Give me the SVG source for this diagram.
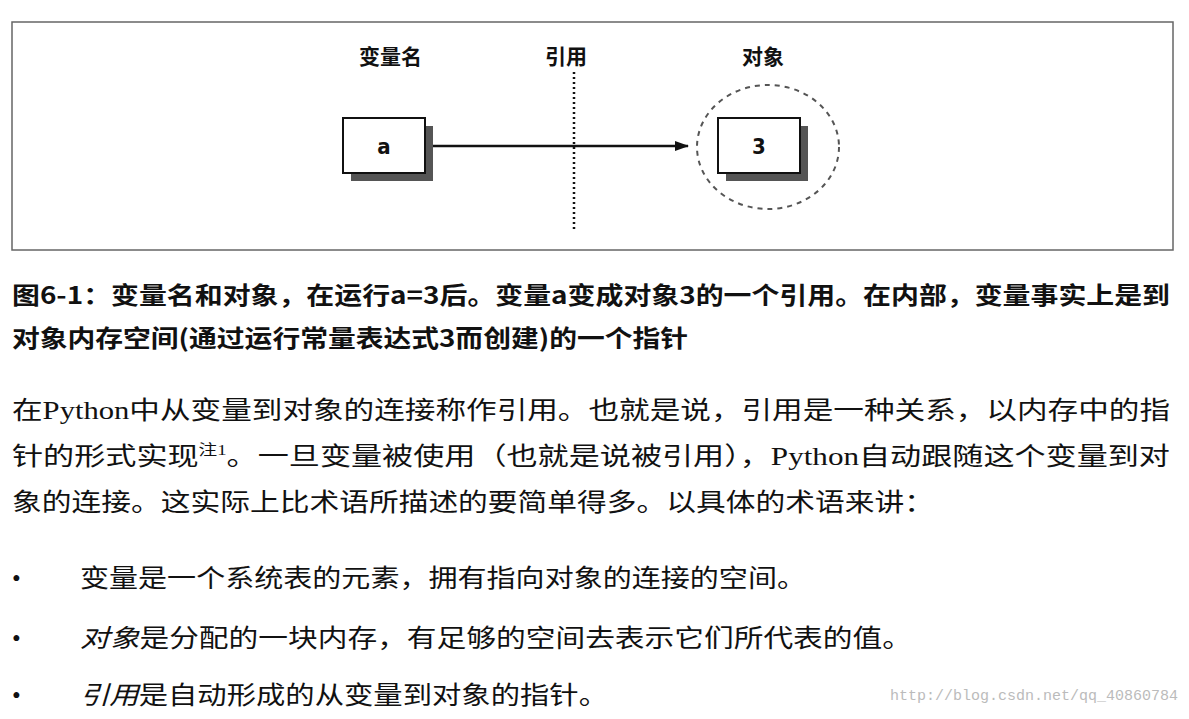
<svg xmlns="http://www.w3.org/2000/svg" width="1189" height="719" viewBox="0 0 1189 719">
<defs>
<style>
.lbl{font-family:"Noto Sans CJK SC","Noto Sans",sans-serif;font-weight:bold;font-size:21px;fill:#111}
.box{fill:#fff;stroke:#111;stroke-width:2}
.sh{fill:#555}
.in{font-family:"DejaVu Sans Condensed","Noto Sans",sans-serif;font-weight:bold;font-size:22px;fill:#111;text-anchor:middle}
.cap{font-family:"Noto Sans CJK SC","Noto Sans",sans-serif;font-weight:bold;font-size:24px;fill:#111}
.body{font-family:"Liberation Serif","Noto Sans CJK SC",serif;font-size:25px;fill:#111}
</style>
<marker id="ah" markerWidth="14" markerHeight="10" refX="13" refY="5" orient="auto" markerUnits="userSpaceOnUse"><path d="M0,0 L14,5 L0,10 Z" fill="#111"/></marker>
</defs>
<rect width="1189" height="719" fill="#fff"/>
<rect x="12" y="22" width="1161" height="228" fill="none" stroke="#666" stroke-width="1.5"/>
<text class="lbl" x="359" y="64">变量名</text>
<text class="lbl" x="545" y="64">引用</text>
<text class="lbl" x="742" y="64">对象</text>
<g id="connectors">
<line x1="574" y1="72" x2="574" y2="232" stroke="#111" stroke-width="2.5" stroke-dasharray="2,3"/>
<line x1="425" y1="146" x2="688" y2="146" stroke="#111" stroke-width="2.5" marker-end="url(#ah)"/>
</g>
<g id="node-a">
<rect class="sh" x="351" y="126" width="82" height="55"/>
<rect class="box" x="343" y="118" width="82" height="55"/>
<text class="in" x="384" y="154">a</text>
</g>
<g id="node-3">
<ellipse cx="768" cy="147" rx="71" ry="62" fill="none" stroke="#555" stroke-width="2" stroke-dasharray="5,5"/>
<rect class="sh" x="726" y="126" width="82" height="55"/>
<rect class="box" x="718" y="118" width="82" height="55"/>
<text class="in" x="759" y="154">3</text>
</g>
<text class="cap" x="12" y="304" textLength="1158" lengthAdjust="spacingAndGlyphs">图6-1：变量名和对象，在运行a=3后。变量a变成对象3的一个引用。在内部，变量事实上是到</text>
<text class="cap" x="12" y="347" textLength="676" lengthAdjust="spacingAndGlyphs">对象内存空间(通过运行常量表达式3而创建)的一个指针</text>
<text class="body" x="12" y="419" textLength="1158" lengthAdjust="spacingAndGlyphs">在Python中从变量到对象的连接称作引用。也就是说，引用是一种关系，以内存中的指</text>
<text class="body" x="12" y="465" textLength="1158" lengthAdjust="spacingAndGlyphs">针的形式实现<tspan font-size="15" dy="-10">注1</tspan><tspan dy="10">。一旦变量被使用（也就是说被引用），Python自动跟随这个变量到对</tspan></text>
<text class="body" x="12" y="511" textLength="922" lengthAdjust="spacingAndGlyphs">象的连接。这实际上比术语所描述的要简单得多。以具体的术语来讲：</text>
<text class="body" x="12" y="587">•</text>
<text class="body" x="80" y="587" textLength="726" lengthAdjust="spacingAndGlyphs">变量是一个系统表的元素，拥有指向对象的连接的空间。</text>
<text class="body" x="12" y="647">•</text>
<text class="body" x="80" y="647" textLength="832" lengthAdjust="spacingAndGlyphs"><tspan font-style="italic">对象</tspan>是分配的一块内存，有足够的空间去表示它们所代表的值。</text>
<text class="body" x="12" y="704">•</text>
<text class="body" x="80" y="704" textLength="528" lengthAdjust="spacingAndGlyphs"><tspan font-style="italic">引用</tspan>是自动形成的从变量到对象的指针。</text>
<text x="1178" y="700" text-anchor="end" font-family="Liberation Mono,monospace" font-size="15" fill="#bbb">http://blog.csdn.net/qq_40860784</text>
</svg>
